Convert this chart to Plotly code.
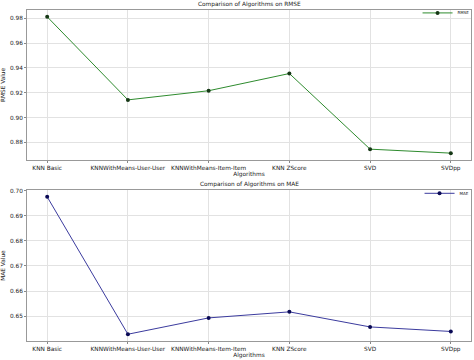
import plotly.graph_objects as go

algorithms = ["KNN Basic", "KNNWithMeans-User-User", "KNNWithMeans-Item-Item",
              "KNN ZScore", "SVD", "SVDpp"]
rmse_values = [0.9813, 0.9142, 0.9216, 0.9355, 0.8744, 0.8712]
mae_values = [0.6975, 0.6428, 0.6493, 0.6517, 0.6457, 0.6439]
rmse_ticks = [0.88, 0.90, 0.92, 0.94, 0.96, 0.98]
mae_ticks = [0.65, 0.66, 0.67, 0.68, 0.69, 0.70]

FONT = "DejaVu Sans"
TXT = "#222222"
FS = 5.8
fig = go.Figure()
fig.add_trace(go.Scatter(
    x=list(range(len(algorithms))), y=rmse_values, mode="lines+markers", name="RMSE",
    line=dict(color="#2e8b2e", width=1), marker=dict(color="#163816", size=4),
    xaxis="x", yaxis="y", legend="legend", showlegend=True))
fig.add_trace(go.Scatter(
    x=list(range(len(algorithms))), y=mae_values, mode="lines+markers", name="MAE",
    line=dict(color="#3b3b9e", width=1), marker=dict(color="#0a0a55", size=4),
    xaxis="x2", yaxis="y2", legend="legend2", showlegend=True))

axis_common = dict(showline=True, mirror=True, linecolor="#999999", linewidth=1,
                   showgrid=True, gridcolor="#e2e2e2", gridwidth=1,
                   ticks="outside", ticklen=2, tickcolor="#888888",
                   tickfont=dict(size=FS, color=TXT, family=FONT),
                   zeroline=False, automargin=False)

xa = dict(axis_common, tickmode="array", tickvals=list(range(len(algorithms))),
          ticktext=algorithms, range=[-0.25, 5.25], tickangle=0,
          title=dict(text="Algorithms", font=dict(size=FS, color=TXT, family=FONT), standoff=0))

fig.update_layout(
    template="none",
    width=474, height=360,
    margin=dict(l=27, r=3, t=10, b=19, autoexpand=False),
    paper_bgcolor="white", plot_bgcolor="white",
    font=dict(family=FONT, size=FS, color=TXT),
    showlegend=True,
    hovermode=False,
    xaxis=dict(xa, domain=[0, 1], anchor="y"),
    yaxis=dict(axis_common, domain=[0.547, 1], anchor="x", range=[0.8657, 0.9868],
               tickmode="array", tickvals=rmse_ticks, ticktext=[f"{v:.2f}" for v in rmse_ticks],
               title=dict(text="RMSE Value", font=dict(size=FS, color=TXT, family=FONT), standoff=3)),
    xaxis2=dict(xa, domain=[0, 1], anchor="y2"),
    yaxis2=dict(axis_common, domain=[0, 0.456], anchor="x2", range=[0.6401, 0.7002],
                tickmode="array", tickvals=mae_ticks, ticktext=[f"{v:.2f}" for v in mae_ticks],
                title=dict(text="MAE Value", font=dict(size=FS, color=TXT, family=FONT), standoff=3)),
    legend=dict(x=1.008, y=1.035, xanchor="right", yanchor="top",
                font=dict(size=4, color=TXT), bgcolor="rgba(255,255,255,0)", itemwidth=30,
                borderwidth=0),
    legend2=dict(x=1.008, y=0.49, xanchor="right", yanchor="top",
                 font=dict(size=4, color=TXT), bgcolor="rgba(255,255,255,0)", itemwidth=30,
                 borderwidth=0),
    annotations=[
        dict(text="Comparison of Algorithms on RMSE", x=0.5, y=1, xref="paper", yref="paper",
             xanchor="center", yanchor="bottom", yshift=0, showarrow=False,
             font=dict(size=FS, color=TXT, family=FONT)),
        dict(text="Comparison of Algorithms on MAE", x=0.5, y=0.456, xref="paper", yref="paper",
             xanchor="center", yanchor="bottom", yshift=0, showarrow=False,
             font=dict(size=FS, color=TXT, family=FONT)),
    ],
)

fig.write_html("out.html", config={"displayModeBar": False},
               post_script="document.body.style.margin='0';document.body.style.padding='0';")
